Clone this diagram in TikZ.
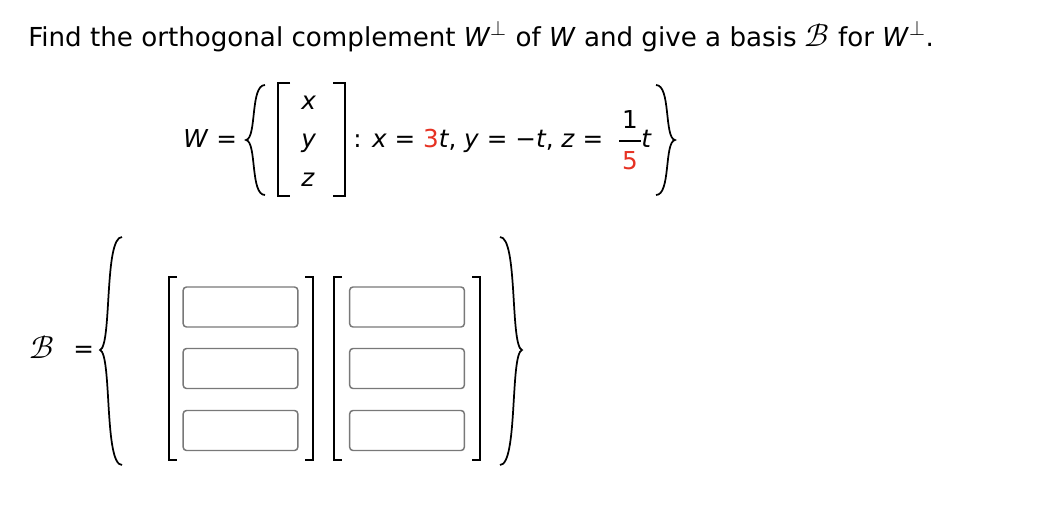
\documentclass[tikz,border=0pt]{standalone}
\usepackage{fontspec}
\setmainfont{DejaVu Sans}
\newfontfamily\cmfont{Latin Modern Roman}
\usepackage{unicode-math}
\definecolor{ansred}{RGB}{230,50,35}
\definecolor{boxgray}{RGB}{120,120,120}
\begin{document}
\begin{tikzpicture}[x=0.75pt,y=-0.75pt,
  txt/.style={inner sep=0,anchor=base west,font=\fontsize{18.5}{22}\selectfont},
  ansbox/.style={draw=boxgray,line width=1.1pt,rounded corners=2.5pt},
  brk/.style={line width=1.1pt},
  brace/.style={line width=1.3pt}]
\useasboundingbox (0,0) rectangle (1058,522);
\node[txt,font=\fontsize{19.6}{22}\selectfont] (title) at (28,46) {Find the orthogonal complement \textit{W}{\fontsize{22}{22}\selectfont$^{\perp}$} of \textit{W} and give a basis {\cmfont\fontsize{24}{24}\selectfont$\mathcal{B}$} for \textit{W}{\fontsize{22}{22}\selectfont$^{\perp}$}.};
% W set
\node[txt] (weq) at (183,147) {\textit{W} =};
\draw[brace] (265,85) .. controls (250,85) and (257,138) .. (246,140) .. controls (257,142) and (250,195) .. (265,195);
\draw[brk] (290,83) -- (278,83) -- (278,196) -- (290,196);
\draw[brk] (333,83) -- (345,83) -- (345,196) -- (333,196);
\node[txt] (vx) at (301,109) {\textit{x}};
\node[txt] (vy) at (301,147) {\textit{y}};
\node[txt] (vz) at (301,186) {\textit{z}};
\node[txt] (cond) at (353,147) {: \textit{x} = {\color{ansred}3}\textit{t}, \textit{y} = −\textit{t}, \textit{z} =};
\node[txt,anchor=base] (one) at (630,128) {1};
\node[txt,anchor=base] (five) at (630,169) {\color{ansred}5};
\draw[line width=1pt] (619,141) -- (641,141);
\node[txt] (tt) at (641,147) {\textit{t}};
\draw[brace] (656,85) .. controls (671,85) and (664,138) .. (675,140) .. controls (664,142) and (671,195) .. (656,195);
% basis
\node[txt] (bcal) at (29,358) {\cmfont\fontsize{24}{24}\selectfont$\mathcal{B}$};
\node[txt] (beq) at (73,357) {=};
\draw[brace] (122,237) .. controls (104,237) and (112,346) .. (100,350) .. controls (112,354) and (104,465) .. (122,465);
\draw[brace] (500,237) .. controls (518,237) and (510,346) .. (522,350) .. controls (510,354) and (518,465) .. (500,465);
\draw[brk] (177,277) -- (169,277) -- (169,460) -- (177,460);
\draw[brk] (305,277) -- (313,277) -- (313,460) -- (305,460);
\draw[brk] (342,277) -- (334,277) -- (334,460) -- (342,460);
\draw[brk] (472,277) -- (480,277) -- (480,460) -- (472,460);
\node[ansbox,minimum width=86pt,minimum height=30pt,inner sep=0] (a1) at (240.5,307) {};
\node[ansbox,minimum width=86pt,minimum height=30pt,inner sep=0] (a2) at (240.5,368.5) {};
\node[ansbox,minimum width=86pt,minimum height=30pt,inner sep=0] (a3) at (240.5,430.5) {};
\node[ansbox,minimum width=86pt,minimum height=30pt,inner sep=0] (b1) at (407,307) {};
\node[ansbox,minimum width=86pt,minimum height=30pt,inner sep=0] (b2) at (407,368.5) {};
\node[ansbox,minimum width=86pt,minimum height=30pt,inner sep=0] (b3) at (407,430.5) {};
\end{tikzpicture}
\end{document}
